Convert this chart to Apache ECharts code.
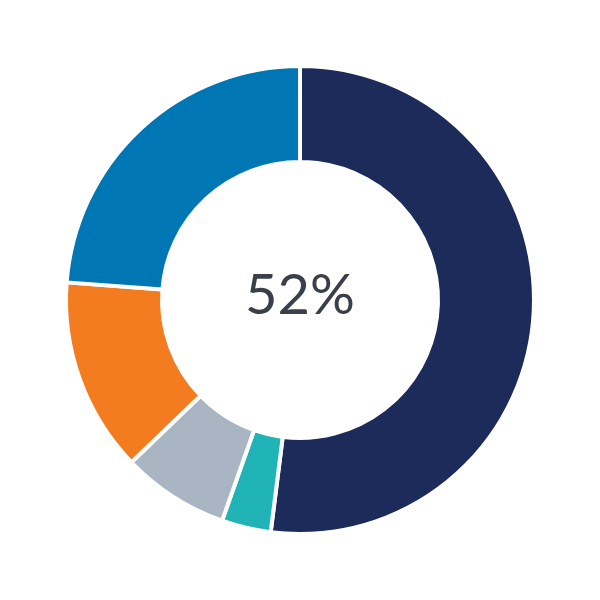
<!DOCTYPE html>
<html>
<head>
<meta charset="utf-8">
<script src="https://cdn.jsdelivr.net/npm/echarts@6/dist/echarts.min.js"></script>
<style>
  html, body { margin: 0; padding: 0; background: #fff; }
  #donut { width: 600px; height: 600px; }
</style>
</head>
<body>
<div id="donut"></div>
<script>
var categories = ['A', 'B', 'C', 'D', 'E'];
var shares = [52, 3.4, 7.4, 13.4, 23.8];
var colors = ['#1c2b5a', '#20b4b6', '#a9b5c3', '#f37c20', '#0077b5'];
var centerLabel = '52%';

var pieData = categories.map(function (c, i) {
  return { name: c, value: shares[i], itemStyle: { color: colors[i] } };
});

var chart = echarts.init(document.getElementById('donut'));
chart.setOption({
  animation: false,
  series: [{
    type: 'pie',
    center: [300, 300],
    radius: [138, 234],
    startAngle: 90,
    clockwise: true,
    label: { show: false },
    labelLine: { show: false },
    itemStyle: { borderColor: '#fff', borderWidth: 4 },
    data: pieData
  }],
  graphic: [{
    type: 'text',
    left: 'center',
    top: 268,
    style: {
      text: centerLabel,
      fontFamily: 'Lato',
      fontWeight: 'normal',
      fontSize: 56,
      fill: '#3a3f48'
    }
  }]
});
</script>
</body>
</html>
